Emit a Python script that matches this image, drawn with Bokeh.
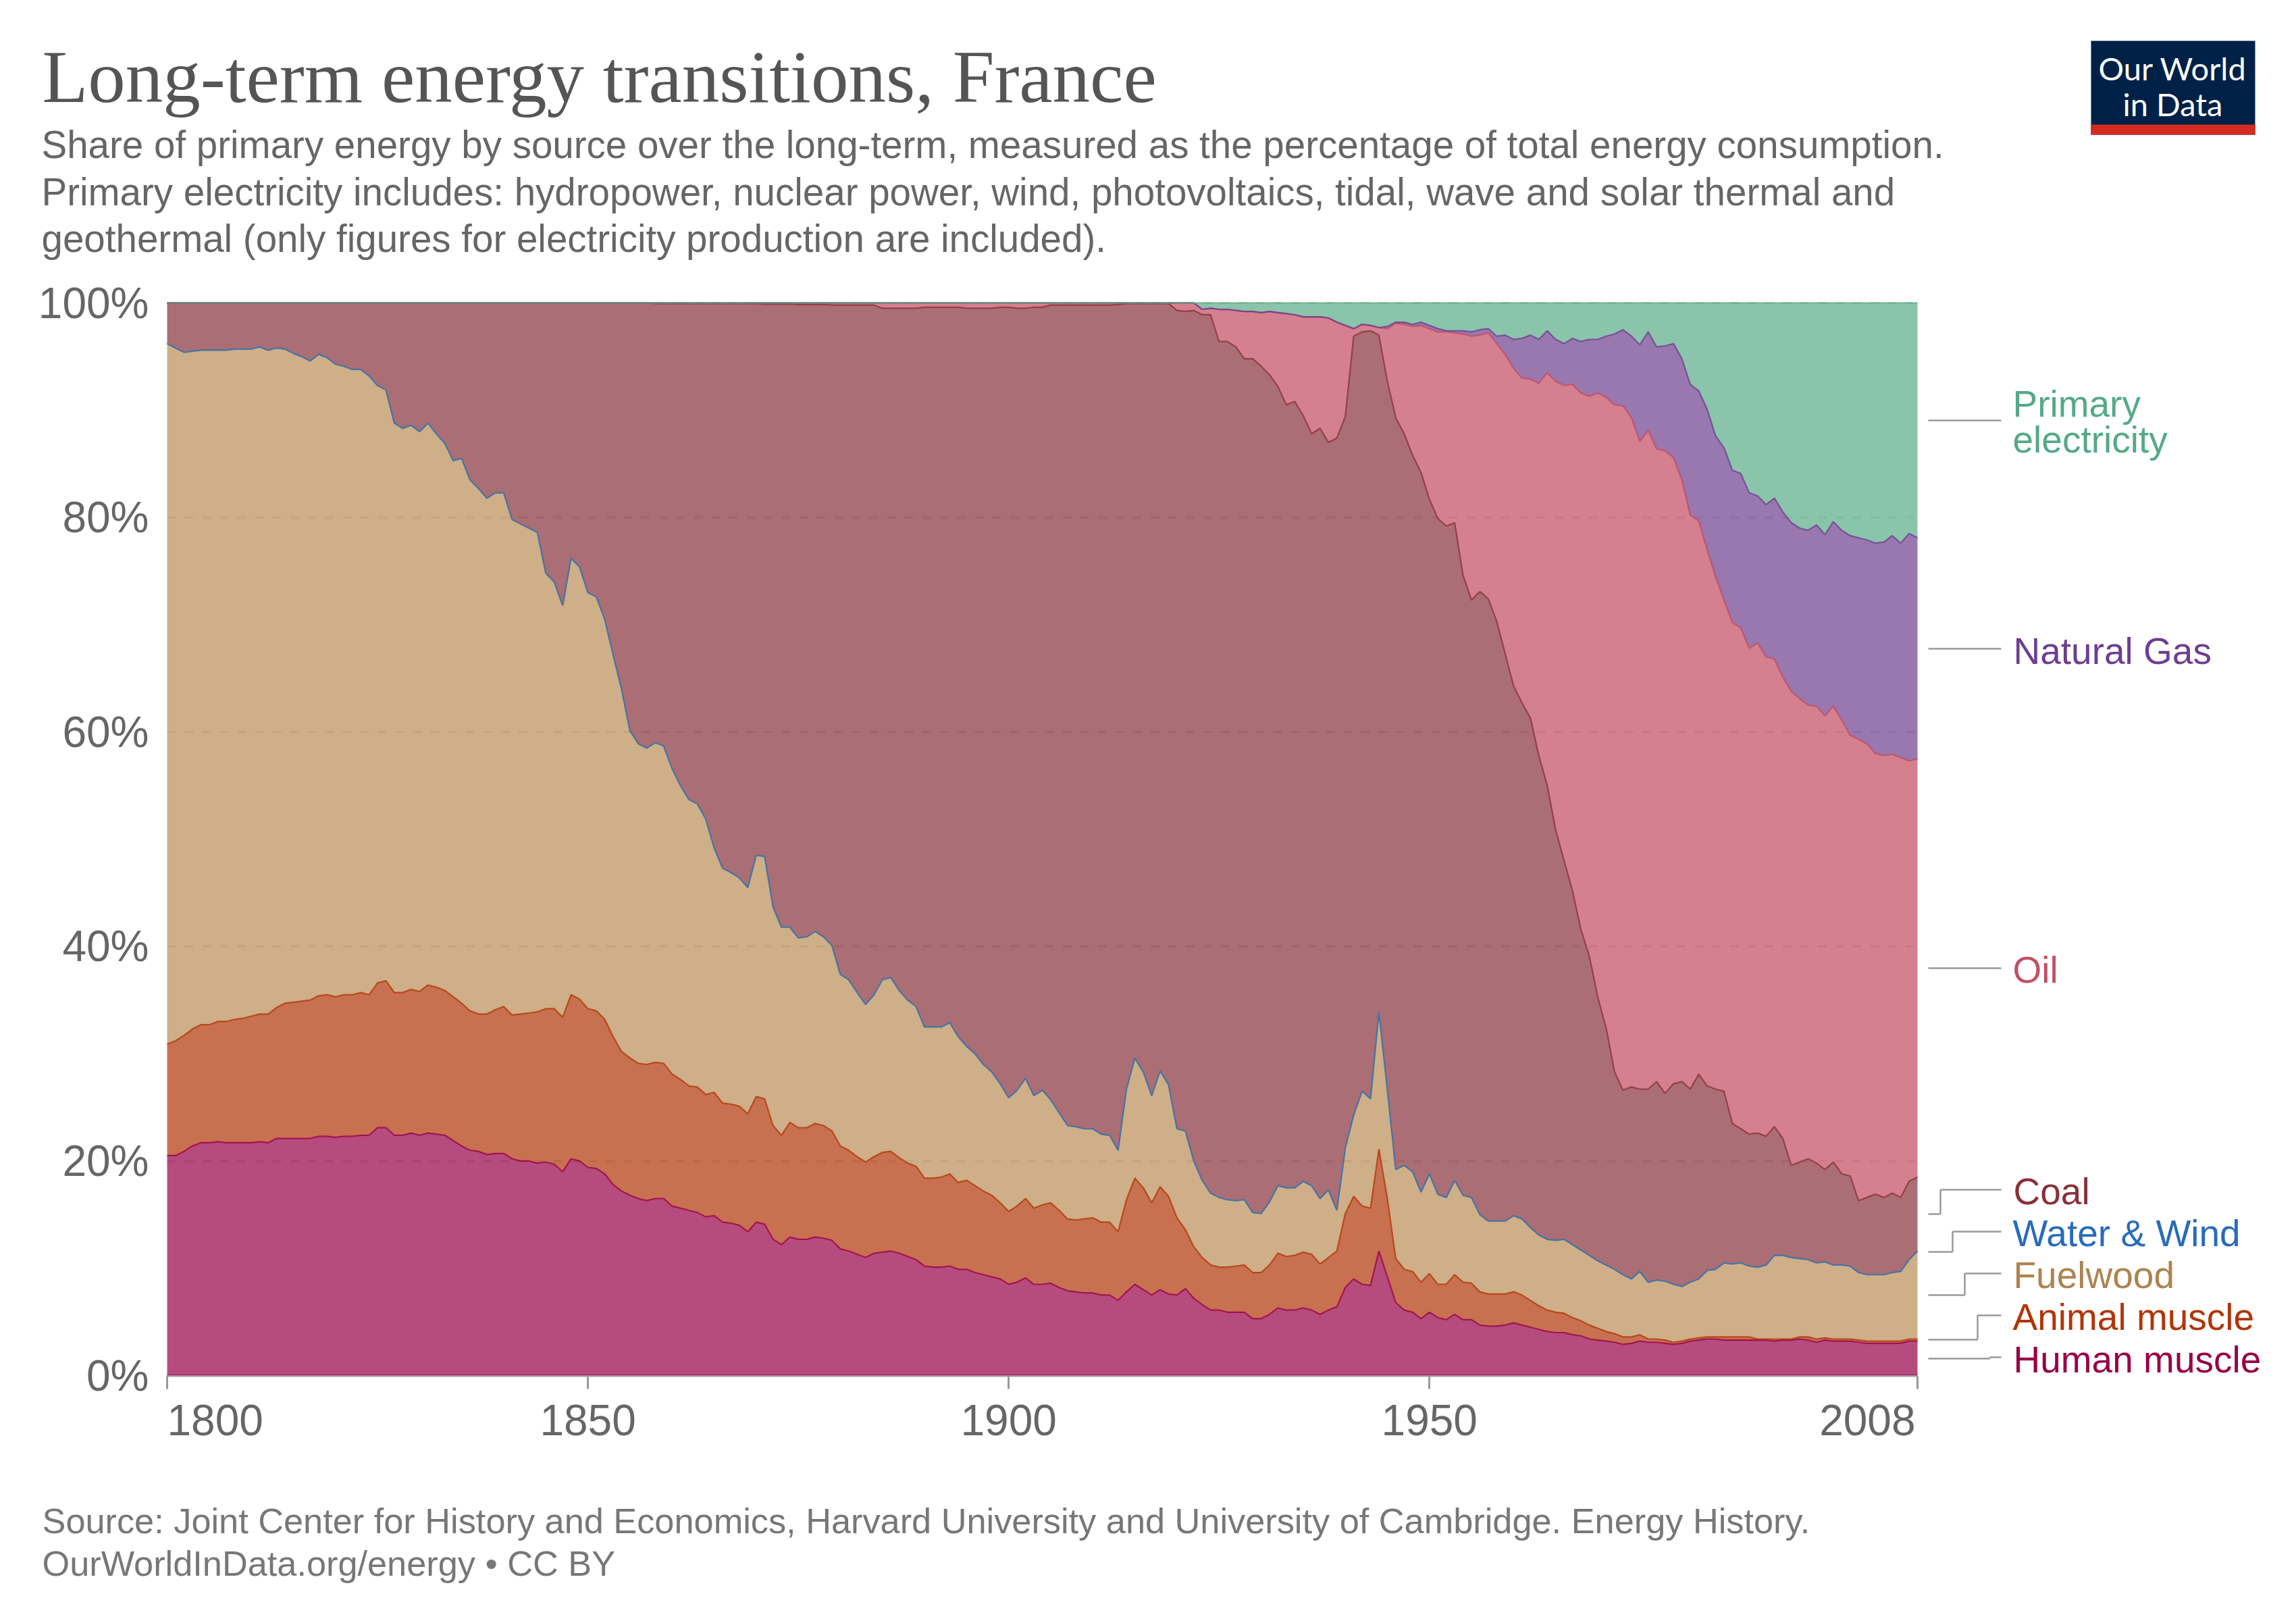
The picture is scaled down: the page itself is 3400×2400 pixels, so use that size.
from bokeh.plotting import figure
from bokeh.models import Range1d, Label, Arrow, BoxAnnotation, FixedTicker
from bokeh.embed import file_html
from bokeh.resources import INLINE

years = list(range(1800, 2009))

human_muscle_top = [
 20.5,20.5,20.9,21.4,21.7,21.7,21.8,21.7,21.7,21.7,21.7,21.8,21.7,22.1,22.1,22.1,22.1,22.1,22.3,22.3,
 22.2,22.3,22.3,22.4,22.4,23.1,23.1,22.4,22.4,22.6,22.4,22.6,22.5,22.4,21.9,21.4,21.0,20.9,20.6,20.7,
 20.7,20.2,20.0,20.0,19.8,19.9,19.7,19.0,20.2,20.0,19.4,19.3,18.8,17.8,17.2,16.8,16.5,16.3,16.5,16.5,
 15.8,15.6,15.4,15.2,14.8,14.9,14.3,14.2,14.0,13.4,14.3,14.1,12.7,12.2,12.9,12.7,12.7,12.9,12.8,12.6,
 11.8,11.6,11.3,11.0,11.4,11.5,11.6,11.4,11.1,10.8,10.2,10.1,10.1,10.2,9.9,9.9,9.6,9.4,9.2,9.0,
 8.5,8.7,9.1,8.5,8.5,8.6,8.2,7.9,7.8,7.7,7.7,7.5,7.5,7.0,7.8,8.5,8.0,7.5,8.0,7.6,
 7.5,8.1,7.2,6.6,6.1,6.1,5.9,5.9,5.9,5.3,5.3,5.7,6.3,6.1,6.1,6.3,6.1,5.7,6.1,6.4,
 8.2,9.0,8.5,8.4,11.6,9.2,6.8,6.1,5.9,5.3,5.9,5.4,5.2,5.7,5.2,5.2,4.7,4.6,4.6,4.7,
 4.9,4.7,4.5,4.3,4.1,4.0,4.0,3.8,3.7,3.4,3.3,3.2,3.1,2.9,3.0,3.2,3.1,3.1,3.0,2.9,
 3.0,3.2,3.3,3.4,3.4,3.3,3.3,3.3,3.3,3.3,3.3,3.2,3.3,3.3,3.4,3.3,3.1,3.3,3.2,3.2,
 3.2,3.1,3.0,3.0,3.0,3.0,3.0,3.2,3.2]

animal_muscle_top = [
 30.9,31.2,31.7,32.3,32.7,32.7,33.0,33.0,33.2,33.3,33.5,33.7,33.7,34.3,34.7,34.8,34.9,35.0,35.4,35.5,
 35.3,35.5,35.5,35.7,35.5,36.6,36.8,35.7,35.7,36.0,35.8,36.4,36.2,35.9,35.3,34.7,34.0,33.7,33.7,34.1,
 34.4,33.6,33.7,33.8,33.9,34.2,34.2,33.4,35.5,35.1,34.2,34.0,33.2,31.6,30.2,29.6,29.1,29.0,29.2,29.1,
 28.1,27.6,27.0,26.9,26.2,26.4,25.4,25.3,25.1,24.4,26.0,25.8,23.3,22.4,23.6,23.1,23.1,23.5,23.3,22.8,
 21.4,21.0,20.4,19.9,20.4,20.8,20.9,20.3,19.8,19.5,18.4,18.4,18.5,18.8,18.0,18.2,17.7,17.2,16.8,16.1,
 15.3,15.8,16.5,15.6,15.9,16.1,15.4,14.6,14.5,14.6,14.7,14.3,14.3,13.4,16.4,18.4,17.5,16.1,17.6,16.7,
 14.7,13.6,12.0,11.0,10.3,10.1,10.1,10.2,10.3,9.6,9.6,10.3,11.4,11.1,11.2,11.5,11.3,10.4,11.0,11.6,
 15.1,16.7,15.8,15.6,21.1,16.5,10.9,9.9,9.7,8.7,9.5,8.5,8.5,9.4,8.7,8.6,7.8,7.6,7.6,7.6,
 7.8,7.5,7.0,6.5,6.1,5.9,5.8,5.4,5.1,4.7,4.4,4.1,3.9,3.6,3.6,3.8,3.4,3.4,3.3,3.1,
 3.2,3.4,3.5,3.6,3.6,3.6,3.6,3.6,3.6,3.4,3.4,3.4,3.4,3.4,3.6,3.6,3.4,3.5,3.4,3.4,
 3.4,3.3,3.2,3.2,3.2,3.2,3.2,3.4,3.4]

fuelwood_top = [
 96.2,95.8,95.4,95.5,95.6,95.6,95.6,95.6,95.7,95.7,95.7,95.9,95.6,95.8,95.7,95.3,95.0,94.6,95.2,94.9,
 94.3,94.1,93.8,93.8,93.2,92.3,91.9,88.8,88.3,88.6,88.0,88.8,87.8,86.9,85.3,85.5,83.5,82.7,81.8,82.3,
 82.3,79.8,79.4,79.0,78.6,74.8,74.0,71.8,76.2,75.4,73.0,72.6,70.5,67.2,64.0,60.1,58.9,58.5,59.0,58.7,
 56.6,55.0,53.7,53.3,51.9,49.2,47.3,46.9,46.4,45.5,48.5,48.4,43.7,41.8,41.8,40.8,40.9,41.4,40.9,40.1,
 37.4,36.9,35.7,34.6,35.5,36.9,37.1,35.9,35.0,34.4,32.5,32.5,32.5,32.9,31.6,30.7,30.0,29.0,28.3,27.2,
 25.9,26.6,27.7,26.1,26.6,25.7,24.5,23.3,23.2,23.0,23.0,22.5,22.4,21.0,26.7,29.6,28.3,26.1,28.4,27.1,
 23.0,22.8,20.0,18.2,17.0,16.6,16.4,16.3,16.4,15.2,15.1,16.2,17.7,17.5,17.5,18.1,17.7,16.5,17.3,15.4,
 21.2,24.3,26.5,25.8,33.9,26.7,19.2,19.6,19.0,17.1,18.8,16.9,16.6,18.2,16.8,16.6,15.0,14.4,14.4,14.4,
 14.9,14.6,13.8,13.1,12.7,12.6,12.7,12.2,11.7,11.2,10.7,10.3,9.9,9.4,9.0,9.7,8.7,8.9,8.8,8.5,
 8.3,8.7,9.0,9.8,9.9,10.5,10.4,10.5,10.2,10.1,10.3,11.2,11.2,11.0,10.9,10.8,10.5,10.6,10.3,10.3,
 10.2,9.6,9.4,9.4,9.4,9.6,9.7,10.8,11.6]

# The water & wind band is thinner than its own outline: only the line can be read.
water_wind_top = fuelwood_top

coal_top = [
 100.0,100.0,100.0,100.0,100.0,100.0,100.0,100.0,100.0,100.0,100.0,100.0,100.0,100.0,100.0,100.0,100.0,100.0,100.0,100.0,
 100.0,100.0,100.0,100.0,100.0,100.0,100.0,100.0,100.0,100.0,100.0,100.0,100.0,100.0,100.0,100.0,100.0,100.0,100.0,100.0,
 100.0,100.0,100.0,100.0,100.0,100.0,100.0,100.0,100.0,100.0,100.0,100.0,100.0,100.0,100.0,100.0,100.0,100.0,99.95,99.95,
 99.95,99.95,99.95,99.95,99.95,99.95,99.95,99.95,99.95,99.95,99.95,99.9,99.9,99.9,99.9,99.85,99.85,99.85,99.85,99.8,
 99.8,99.8,99.8,99.8,99.8,99.5,99.5,99.5,99.5,99.5,99.6,99.6,99.6,99.6,99.6,99.5,99.5,99.5,99.5,99.6,
 99.6,99.5,99.5,99.6,99.6,99.8,99.8,99.8,99.8,99.8,99.8,99.8,99.8,99.85,99.95,99.95,99.95,99.95,99.95,99.95,
 99.3,99.2,99.3,98.9,98.9,96.4,96.4,95.9,94.8,94.8,94.1,93.3,92.2,90.5,90.8,89.5,87.8,88.3,87.0,87.4,
 89.4,96.9,97.3,97.4,97.0,92.7,89.3,87.8,85.8,84.2,81.7,79.9,79.2,79.5,74.6,72.3,73.1,72.4,70.3,67.3,
 64.3,62.7,61.3,57.8,55.0,50.9,48.0,45.2,41.6,39.1,35.3,32.4,28.3,26.6,26.9,26.7,26.7,27.4,26.3,27.2,
 27.4,26.7,28.1,27.0,26.7,26.5,23.5,23.0,22.5,22.6,22.3,23.2,22.1,19.6,19.9,20.2,19.8,19.2,19.9,18.8,
 18.6,16.3,16.6,16.9,16.6,17.0,16.6,18.1,18.5]

oil_top = [
 100.0,100.0,100.0,100.0,100.0,100.0,100.0,100.0,100.0,100.0,100.0,100.0,100.0,100.0,100.0,100.0,100.0,100.0,100.0,100.0,
 100.0,100.0,100.0,100.0,100.0,100.0,100.0,100.0,100.0,100.0,100.0,100.0,100.0,100.0,100.0,100.0,100.0,100.0,100.0,100.0,
 100.0,100.0,100.0,100.0,100.0,100.0,100.0,100.0,100.0,100.0,100.0,100.0,100.0,100.0,100.0,100.0,100.0,100.0,100.0,100.0,
 100.0,100.0,100.0,100.0,100.0,100.0,100.0,100.0,100.0,100.0,100.0,100.0,100.0,100.0,100.0,100.0,100.0,100.0,100.0,100.0,
 100.0,100.0,100.0,100.0,100.0,100.0,100.0,100.0,100.0,100.0,100.0,100.0,100.0,100.0,100.0,100.0,100.0,100.0,100.0,100.0,
 100.0,100.0,100.0,100.0,100.0,100.0,100.0,100.0,100.0,100.0,100.0,100.0,100.0,100.0,100.0,100.0,100.0,100.0,100.0,100.0,
 100.0,100.0,100.0,99.4,99.5,99.4,99.4,99.3,99.2,99.2,99.1,99.2,99.1,99.0,98.9,98.7,98.7,98.7,98.6,98.2,
 97.9,97.6,98.0,97.9,97.7,97.6,98.1,98.0,97.8,97.9,97.6,97.3,97.3,97.2,97.1,96.9,97.0,97.2,96.2,95.2,
 93.9,93.0,92.9,92.5,93.5,92.7,92.3,92.4,91.6,91.3,91.6,91.2,90.5,90.4,89.3,87.1,88.1,86.4,86.2,85.6,
 83.5,80.2,79.7,77.0,74.5,72.3,70.2,69.7,67.8,68.3,67.0,66.8,65.1,63.8,63.1,62.5,62.4,61.5,62.4,61.1,
 59.7,59.3,58.9,58.0,57.8,57.9,57.6,57.3,57.5]

natural_gas_top = [
 100.0,100.0,100.0,100.0,100.0,100.0,100.0,100.0,100.0,100.0,100.0,100.0,100.0,100.0,100.0,100.0,100.0,100.0,100.0,100.0,
 100.0,100.0,100.0,100.0,100.0,100.0,100.0,100.0,100.0,100.0,100.0,100.0,100.0,100.0,100.0,100.0,100.0,100.0,100.0,100.0,
 100.0,100.0,100.0,100.0,100.0,100.0,100.0,100.0,100.0,100.0,100.0,100.0,100.0,100.0,100.0,100.0,100.0,100.0,100.0,100.0,
 100.0,100.0,100.0,100.0,100.0,100.0,100.0,100.0,100.0,100.0,100.0,100.0,100.0,100.0,100.0,100.0,100.0,100.0,100.0,100.0,
 100.0,100.0,100.0,100.0,100.0,100.0,100.0,100.0,100.0,100.0,100.0,100.0,100.0,100.0,100.0,100.0,100.0,100.0,100.0,100.0,
 100.0,100.0,100.0,100.0,100.0,100.0,100.0,100.0,100.0,100.0,100.0,100.0,100.0,100.0,100.0,100.0,100.0,100.0,100.0,100.0,
 100.0,100.0,100.0,99.4,99.5,99.4,99.4,99.3,99.2,99.2,99.1,99.2,99.1,99.0,98.9,98.7,98.7,98.7,98.6,98.2,
 97.9,97.6,98.0,97.9,97.7,97.8,98.2,98.2,98.0,98.2,97.9,97.6,97.4,97.4,97.4,97.3,97.5,97.6,96.9,97.0,
 96.6,96.7,97.0,96.6,97.4,96.6,96.2,96.7,96.4,96.6,96.6,96.9,97.1,97.5,96.9,96.1,97.3,95.9,96.0,96.2,
 94.8,92.4,91.8,90.1,87.6,86.5,84.4,84.1,82.3,82.0,81.2,81.8,80.5,79.5,79.0,78.8,79.3,78.4,79.6,78.8,
 78.3,78.1,77.9,77.6,77.7,78.3,77.6,78.5,78.1]

# Shares of total consumption stack up to 100%.
total = [100.0] * len(years)
baseline = [0.0] * len(years)

series_names = ["Human muscle", "Animal muscle", "Fuelwood", "Water & Wind", "Coal", "Oil", "Natural Gas", "Primary electricity"]
series_colors = ["#970046", "#B13507", "#B98D54", "#286BBB", "#883039", "#C24A60", "#6D3D8D", "#58AB87"]
label_colors = ["#970046", "#B13507", "#AE8350", "#286BBB", "#883039", "#C15065", "#6D3E91", "#55A987"]
tops = [human_muscle_top, animal_muscle_top, fuelwood_top, water_wind_top, coal_top, oil_top, natural_gas_top, total]
bottoms = [baseline] + tops[:-1]

y_ticks = [0, 20, 40, 60, 80, 100]
y_tick_labels = {0: "0%", 20: "20%", 40: "40%", 60: "60%", 80: "80%", 100: "100%"}
x_ticks = [1800, 1850, 1900, 1950, 2008]

title = "Long-term energy transitions, France"
subtitle = ["Share of primary energy by source over the long-term, measured as the percentage of total energy consumption.",
            "Primary electricity includes: hydropower, nuclear power, wind, photovoltaics, tidal, wave and solar thermal and",
            "geothermal (only figures for electricity production are included)."]
source = ["Source: Joint Center for History and Economics, Harvard University and University of Cambridge. Energy History.",
          "OurWorldInData.org/energy \u2022 CC BY"]

W, H = 3400, 2400
L, R, T, B = 247, 2839, 448, 2036
px_per_year = (R - L) / (years[-1] - years[0])
px_per_pct = (B - T) / 100

# The frame fills the page so that titles and labels around the chart are not clipped;
# the ranges are widened so that 1800-2008 and 0-100% land on the chart's own area.
p = figure(width=W, height=H, output_backend="svg", toolbar_location=None,
           x_range=Range1d(years[0] - L / px_per_year, years[0] + (W - L) / px_per_year),
           y_range=Range1d(-(H - B) / px_per_pct, 100 + T / px_per_pct),
           min_border_left=0, min_border_right=0, min_border_top=0, min_border_bottom=0)
p.outline_line_color = None
p.background_fill_color = "white"
p.xgrid.visible = False
p.ygrid.visible = False

p.yaxis.fixed_location = years[0]
p.yaxis.bounds = (0, 100)
p.yaxis.ticker = FixedTicker(ticks=y_ticks)
p.yaxis.major_label_overrides = y_tick_labels
p.yaxis.axis_line_color = None
p.yaxis.major_tick_line_color = None
p.yaxis.minor_tick_line_color = None
p.yaxis.major_label_text_font = "Liberation Sans"
p.yaxis.major_label_text_font_size = "64px"
p.yaxis.major_label_text_color = "#666666"
p.yaxis.major_label_standoff = 21

p.xaxis.fixed_location = -0.09
p.xaxis.bounds = (years[0], years[-1])
p.xaxis.ticker = FixedTicker(ticks=x_ticks)
p.xaxis.axis_line_color = "#aaaaaa"
p.xaxis.axis_line_width = 2.5
p.xaxis.major_tick_line_color = "#999999"
p.xaxis.major_tick_line_width = 3
p.xaxis.major_tick_in = 0
p.xaxis.major_tick_out = 19
p.xaxis.minor_tick_line_color = None
p.xaxis.major_label_text_font_size = "0px"
p.xaxis.major_label_text_color = None

# dashed gridlines, beneath the translucent areas
for tick in y_ticks:
    p.line([years[0], years[-1]], [tick, tick], line_color="#dddddd", line_width=3, line_dash=[13, 13])

for top, bot, c in zip(tops, bottoms, series_colors):
    if top is bot:
        continue
    p.varea(x=years, y1=bot, y2=top, fill_color=c, fill_alpha=0.7)
p.line(years, baseline, line_color=series_colors[0], line_width=2.5, line_alpha=0.8)
for top, c in zip(tops, series_colors):
    p.line(years, top, line_color=c, line_width=2.2, line_alpha=0.8)

# With the frame at the page's edges, "screen" units count from the page's bottom-left corner.
def sy(y):
    return H - y

# A Label's "alphabetic" anchor renders about 0.31 em below the requested point.
BASELINE_SHIFT = 0.31

def text(x, y, s, size, color, font="Liberation Sans", align="left"):
    p.add_layout(Label(x=x, y=sy(y) + BASELINE_SHIFT * size, x_units="screen", y_units="screen", text=s, text_font=font,
                       text_font_size=f"{size}px", text_color=color, text_align=align,
                       text_baseline="alphabetic"))

def seg(x0, y0, x1, y1, color="#999999", w=2.5):
    p.add_layout(Arrow(end=None, x_start=x0, y_start=sy(y0), x_end=x1, y_end=sy(y1),
                       start_units="screen", end_units="screen", line_color=color, line_width=w))

def box(left, right, top, bottom, color):
    p.add_layout(BoxAnnotation(left=left, right=right, top=sy(top), bottom=sy(bottom),
                               left_units="screen", right_units="screen", top_units="screen", bottom_units="screen",
                               fill_color=color, fill_alpha=1, line_color=None))

def frame_x(year):
    return L + (year - years[0]) * px_per_year

# tick labels below the axis
for yr in x_ticks:
    align = "left" if yr == 1800 else "right" if yr == 2008 else "center"
    text(frame_x(yr) + (-3 if yr == 2008 else 0), 2122, str(yr), 64, "#666666", align=align)

text(62, 147, title, 111, "#555555", font="Liberation Serif")
for s, y in zip(subtitle, [232, 302, 371]):
    text(61, y, s, 56.5, "#666666")
for s, y in zip(source, [2268, 2331]):
    text(62, y, s, 52.3, "#777777")

# logo
box(3096, 3339, 60, 199, "#002147")
box(3096, 3339, 184, 199, "#D42B21")
text(3217, 115, "Our World", 47, "#ffffff", font="Lato", align="center")
text(3217, 168, "in Data", 47, "#ffffff", font="Lato", align="center")

# series labels
text(2980, 615, "Primary", 55, label_colors[7])
text(2980, 668, "electricity", 55, label_colors[7])
text(2981, 981, "Natural Gas", 55, label_colors[6])
text(2980, 1453, "Oil", 55, label_colors[5])
text(2981, 1781, "Coal", 55, label_colors[4])
text(2980, 1843, "Water & Wind", 55, label_colors[3])
text(2981, 1905, "Fuelwood", 55, label_colors[2])
text(2980, 1967, "Animal muscle", 55, label_colors[1])
text(2981, 2030, "Human muscle", 55, label_colors[0])

seg(2855, 622, 2963, 622)
seg(2855, 960, 2963, 960)
seg(2855, 1433, 2963, 1433)
for (y0, xm, y1) in [(1797, 2873, 1761), (1853, 2891, 1823), (1917, 2909, 1885), (1983, 2928, 1947), (2011, 2946, 2009)]:
    seg(2855, y0, xm, y0)
    seg(xm, y0, xm, y1)
    seg(xm, y1, 2963, y1)

open("out.html", "w").write(file_html(p, INLINE))
